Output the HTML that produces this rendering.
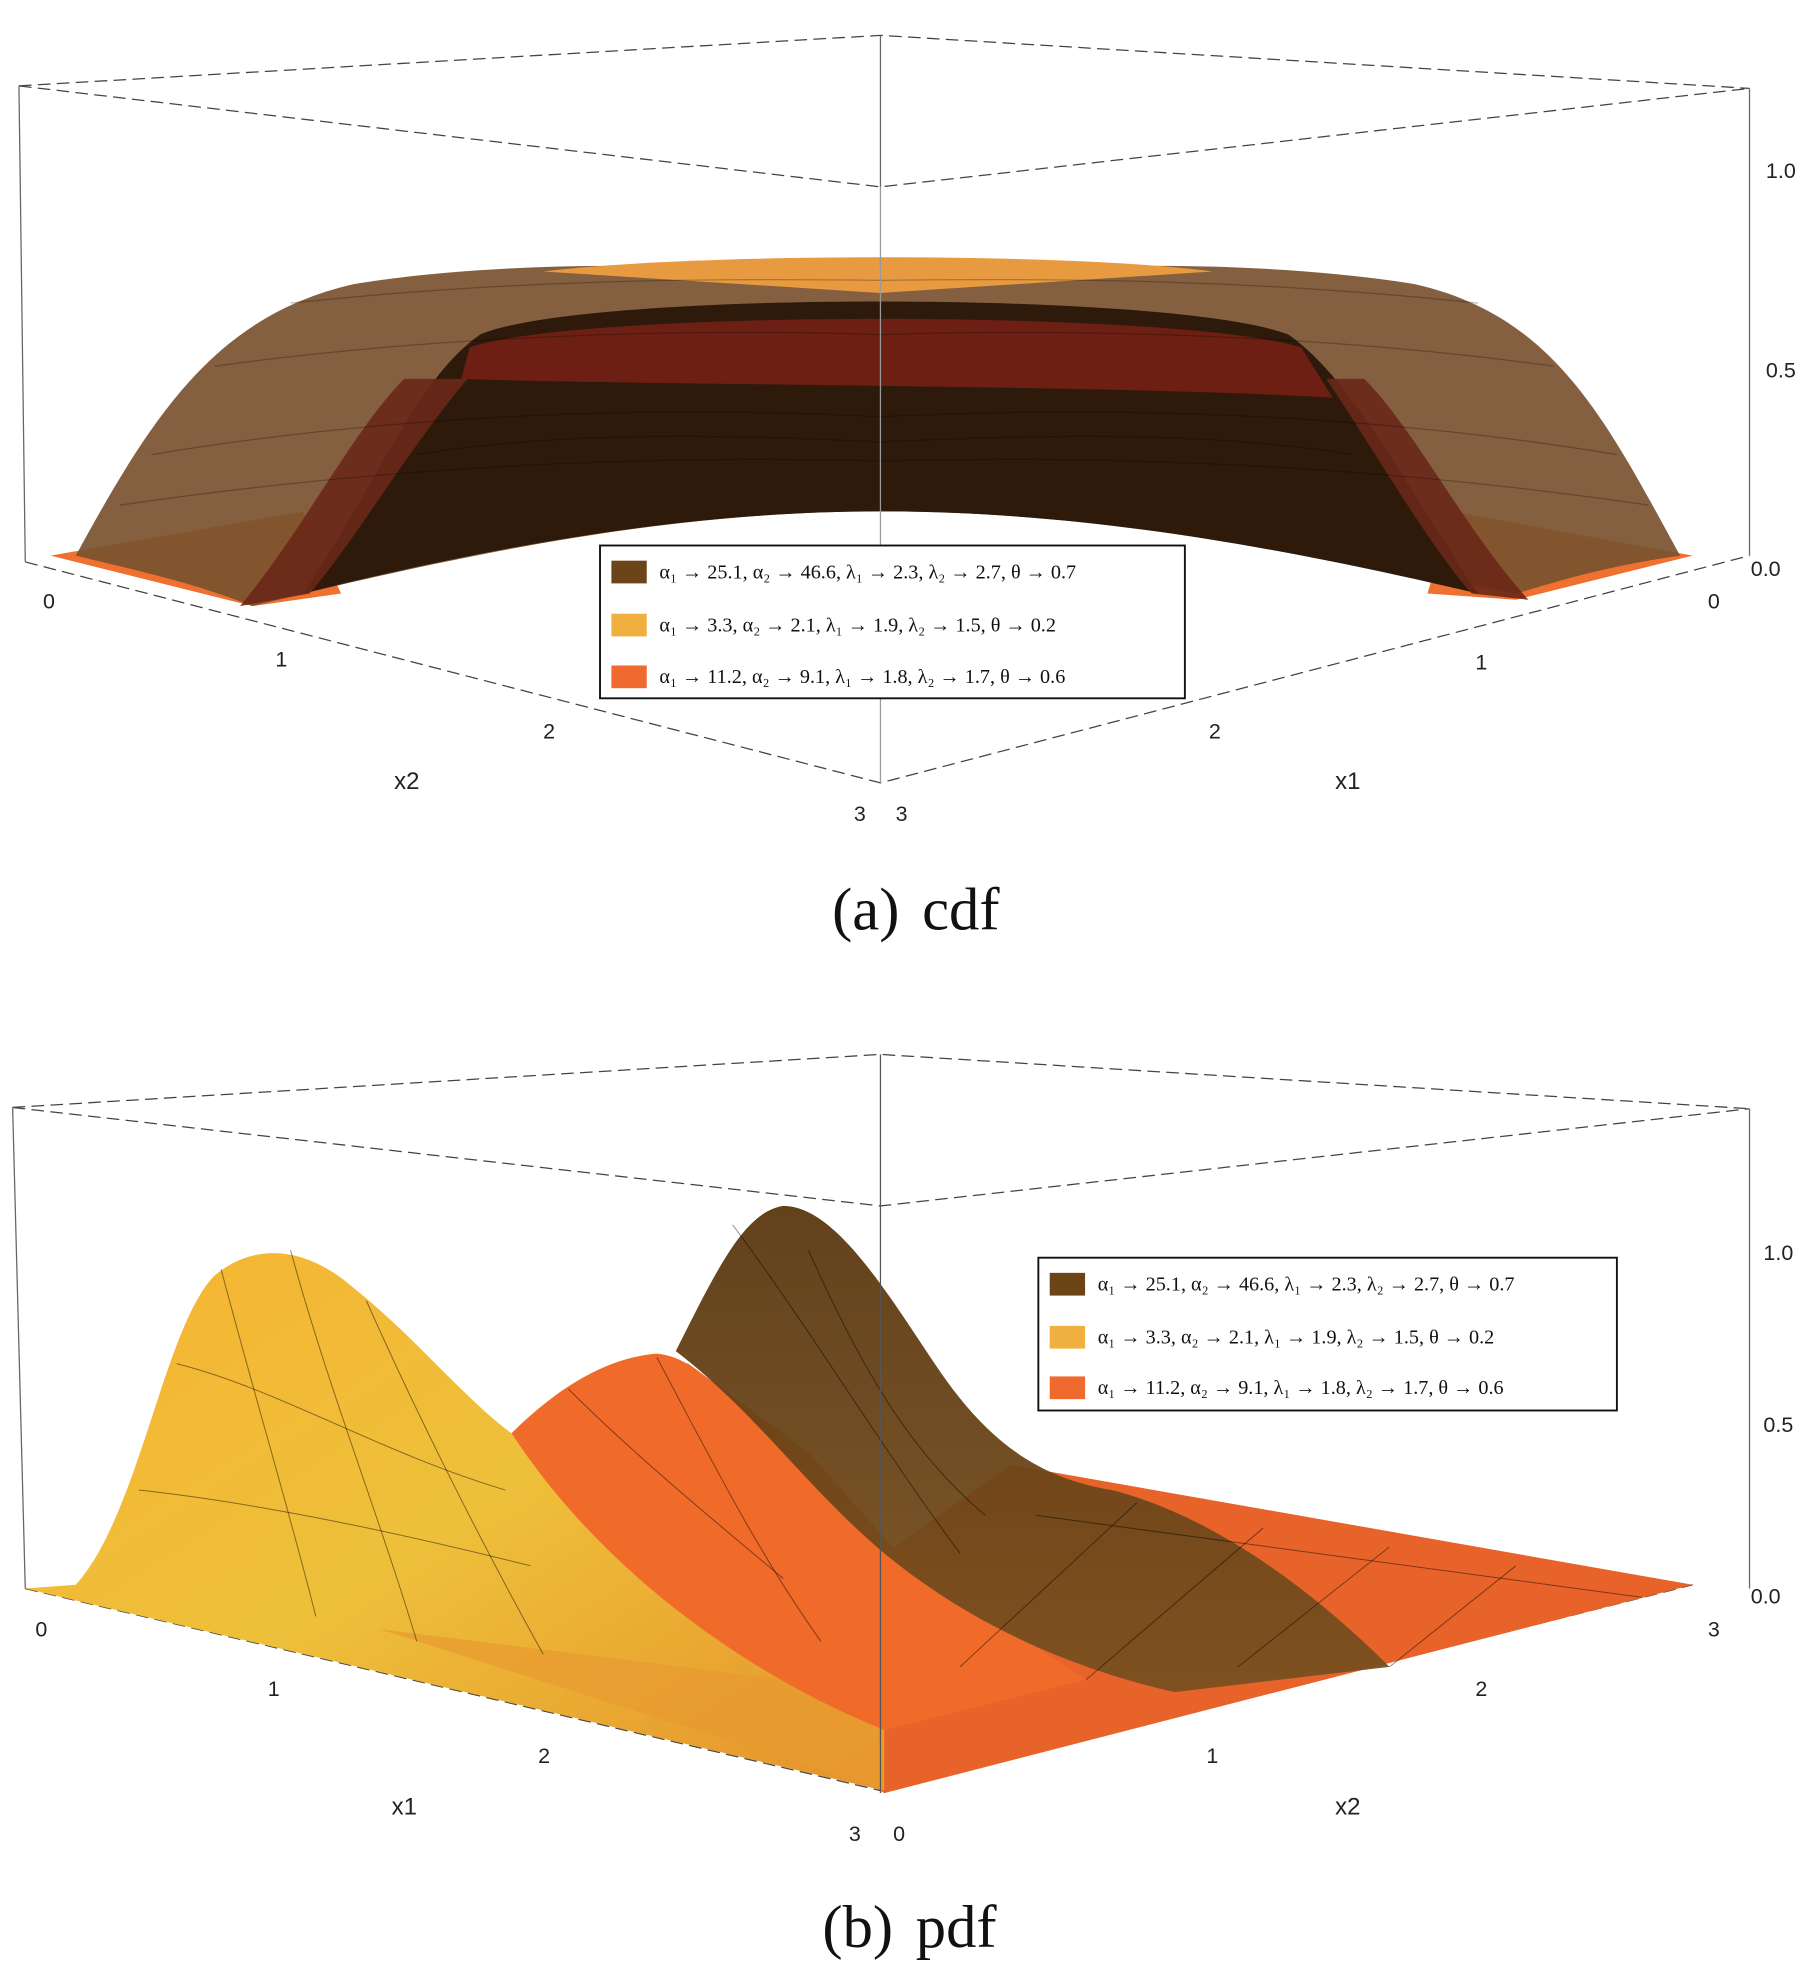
<!DOCTYPE html>
<html><head><meta charset="utf-8"><style>
html,body{margin:0;padding:0;background:#fff;}
svg{display:block}
</style></head><body>
<svg width="1819" height="1980" viewBox="0 0 1440 1568" preserveAspectRatio="none" xmlns="http://www.w3.org/2000/svg" font-family="Liberation Sans, sans-serif">
<defs>
<linearGradient id="yel" x1="0" y1="0" x2="1" y2="1"><stop offset="0" stop-color="#f6b432"/><stop offset="0.5" stop-color="#eec03a"/><stop offset="1" stop-color="#e5922a"/></linearGradient>
<linearGradient id="brn" x1="0" y1="0" x2="0" y2="1"><stop offset="0" stop-color="#5a3810"/><stop offset="1" stop-color="#7a5020"/></linearGradient>
</defs>
<g fill="none" stroke="#444" stroke-width="1" stroke-dasharray="10,5">
<path d="M15,68 L697,28 L1385,70"/>
<path d="M15,68 L697,148 L1385,70"/>
<path d="M20,445 L697,620 L1385,440"/>
</g>
<g stroke="#666" stroke-width="1"><line x1="15" y1="68" x2="20" y2="445"/><line x1="1385" y1="70" x2="1385" y2="440"/><line x1="697" y1="28" x2="697" y2="148"/></g>
<path d="M40,440 L240,405 L270,470 L200,480 Z" fill="#f07030"/>
<path d="M1340,440 L1150,405 L1130,470 L1200,475 Z" fill="#f07030"/>
<path d="M60,440 C120,330 170,250 280,225 C400,205 600,205 697,230 C800,205 1000,205 1120,225 C1230,250 1270,330 1330,440 C1260,450 1220,465 1200,470 C1000,430 850,405 697,405 C550,405 400,430 200,480 C150,460 100,450 60,440 Z" fill="#7a5230" opacity="0.92"/>
<path d="M430,215 C550,200 850,200 960,215 L697,232 Z" fill="#e89a40"/>
<path d="M240,470 C300,380 330,300 380,265 C460,230 930,230 1020,265 C1070,300 1110,380 1170,470 C1000,430 850,405 697,405 C550,405 400,430 240,470 Z" fill="#2e1a0a"/>
<path d="M372,275 C460,245 930,245 1030,275 L1055,315 C900,305 500,305 365,300 Z" fill="#6e1f14"/>
<path d="M190,480 C240,420 280,340 320,300 L370,300 C320,360 280,430 245,470 Z" fill="#6a2818" opacity="0.9"/>
<path d="M1210,475 C1160,420 1120,340 1080,300 L1050,300 C1090,360 1130,430 1165,470 Z" fill="#6a2818" opacity="0.9"/>
<g stroke="#000" stroke-opacity="0.25" fill="none">
<path d="M120,360 C300,330 500,320 697,330 C900,320 1100,330 1280,360"/>
<path d="M170,290 C350,265 550,260 697,265 C850,260 1050,265 1230,290"/>
<path d="M330,360 C450,340 600,345 697,350 C800,345 950,340 1070,360"/>
<path d="M95,400 C300,370 500,360 697,365 C900,360 1100,370 1305,400"/>
<path d="M230,240 C400,222 550,220 697,222 C850,220 1000,222 1170,240"/>
</g>
<line x1="697" y1="148" x2="697" y2="620" stroke="#999" stroke-width="1"/>
<g font-size="17" fill="#222">
<text x="1398" y="141">1.0</text><text x="1398" y="299">0.5</text><text x="1386" y="456">0.0</text>
<text x="34" y="482">0</text><text x="218" y="528">1</text><text x="430" y="585">2</text><text x="676" y="650">3</text>
<text x="1352" y="482">0</text><text x="1168" y="530">1</text><text x="957" y="585">2</text><text x="709" y="650">3</text>
<text x="312" y="625" font-size="19">x2</text><text x="1057" y="625" font-size="19">x1</text>
</g>
<g>
<rect x="475" y="432" width="463" height="121" fill="#fff" stroke="#111" stroke-width="1.5"/>
<rect x="484" y="444" width="28" height="18" fill="#6b4418"/>
<rect x="484" y="486" width="28" height="18" fill="#f0b040"/>
<rect x="484" y="527" width="28" height="18" fill="#f06a30"/>
<g font-family="Liberation Serif, serif" font-size="16" fill="#111">
<text x="522" y="458">α₁ → 25.1, α₂ → 46.6, λ₁ → 2.3, λ₂ → 2.7, θ → 0.7</text>
<text x="522" y="500">α₁ → 3.3, α₂ → 2.1, λ₁ → 1.9, λ₂ → 1.5, θ → 0.2</text>
<text x="522" y="541">α₁ → 11.2, α₂ → 9.1, λ₁ → 1.8, λ₂ → 1.7, θ → 0.6</text>
</g></g>
<text x="725" y="736" font-family="Liberation Serif, serif" font-size="48" text-anchor="middle" fill="#111" word-spacing="6">(a) cdf</text>

<g fill="none" stroke="#444" stroke-width="1" stroke-dasharray="10,5">
<path d="M10,877 L697,835 L1385,878"/>
<path d="M10,877 L697,955 L1385,878"/>
<path d="M20,1258 L697,1418 L1340,1255"/>
</g>
<g stroke="#666" stroke-width="1"><line x1="10" y1="877" x2="20" y2="1258"/><line x1="1385" y1="878" x2="1385" y2="1258"/></g>
<path d="M800,1160 L1340,1255 L700,1420 L560,1330 Z" fill="#e8632a"/>
<path d="M60,1255 C110,1200 130,1050 170,1010 C200,985 240,985 280,1020 C330,1060 370,1110 405,1135 C480,1200 560,1280 700,1330 L700,1418 L20,1258 Z" fill="url(#yel)"/>
<path d="M300,1290 L700,1340 L700,1418 Z" fill="#e89a30" opacity="0.7"/>
<path d="M405,1135 C440,1100 480,1075 520,1072 C550,1075 570,1100 600,1140 C660,1220 720,1280 860,1330 L700,1370 C600,1330 480,1250 405,1135 Z" fill="#f06a2a"/>
<path d="M520,1074 L545,1080 L640,1150 L720,1240 L860,1330 L700,1340 L600,1140 Z" fill="#f06a2a"/>
<path d="M535,1070 C570,1000 590,960 620,955 C660,955 700,1020 740,1080 C780,1140 820,1170 880,1180 C960,1200 1040,1260 1100,1320 L930,1340 C840,1320 760,1280 700,1230 C640,1180 600,1120 535,1070 Z" fill="url(#brn)" opacity="0.95"/>
<g stroke="#000" stroke-opacity="0.45" fill="none" stroke-width="0.8">
<path d="M110,1180 C200,1190 300,1210 420,1240"/>
<path d="M140,1080 C220,1100 300,1150 400,1180"/>
<path d="M175,1005 C200,1100 230,1200 250,1280"/>
<path d="M230,990 C260,1100 300,1200 330,1300"/>
<path d="M290,1030 C330,1120 380,1220 430,1310"/>
<path d="M450,1100 C500,1150 560,1200 620,1250"/>
<path d="M520,1075 C560,1150 600,1230 650,1300"/>
<path d="M580,970 C640,1050 700,1150 760,1230"/>
<path d="M640,990 C680,1080 720,1150 780,1200"/>
<path d="M820,1200 L1300,1265"/>
<path d="M900,1190 L760,1320"/><path d="M1000,1210 L860,1330"/><path d="M1100,1225 L980,1320"/>
<path d="M1200,1240 L1100,1320"/>
</g>
<line x1="697" y1="835" x2="697" y2="1420" stroke="#555" stroke-width="1"/>
<g font-size="17" fill="#222">
<text x="1396" y="998">1.0</text><text x="1396" y="1134">0.5</text><text x="1386" y="1270">0.0</text>
<text x="28" y="1296">0</text><text x="212" y="1343">1</text><text x="426" y="1396">2</text><text x="672" y="1458">3</text>
<text x="707" y="1458">0</text><text x="955" y="1396">1</text><text x="1168" y="1343">2</text><text x="1352" y="1296">3</text>
<text x="310" y="1437" font-size="19">x1</text><text x="1057" y="1437" font-size="19">x2</text>
</g>
<g>
<rect x="822" y="996" width="458" height="121" fill="#fff" stroke="#111" stroke-width="1.5"/>
<rect x="831" y="1008" width="28" height="18" fill="#6b4418"/>
<rect x="831" y="1050" width="28" height="18" fill="#f0b040"/>
<rect x="831" y="1090" width="28" height="18" fill="#f06a30"/>
<g font-family="Liberation Serif, serif" font-size="16" fill="#111">
<text x="869" y="1022">α₁ → 25.1, α₂ → 46.6, λ₁ → 2.3, λ₂ → 2.7, θ → 0.7</text>
<text x="869" y="1064">α₁ → 3.3, α₂ → 2.1, λ₁ → 1.9, λ₂ → 1.5, θ → 0.2</text>
<text x="869" y="1104">α₁ → 11.2, α₂ → 9.1, λ₁ → 1.8, λ₂ → 1.7, θ → 0.6</text>
</g></g>
<text x="720" y="1542" font-family="Liberation Serif, serif" font-size="48" text-anchor="middle" fill="#111" word-spacing="6">(b) pdf</text>
</svg>
</body></html>
